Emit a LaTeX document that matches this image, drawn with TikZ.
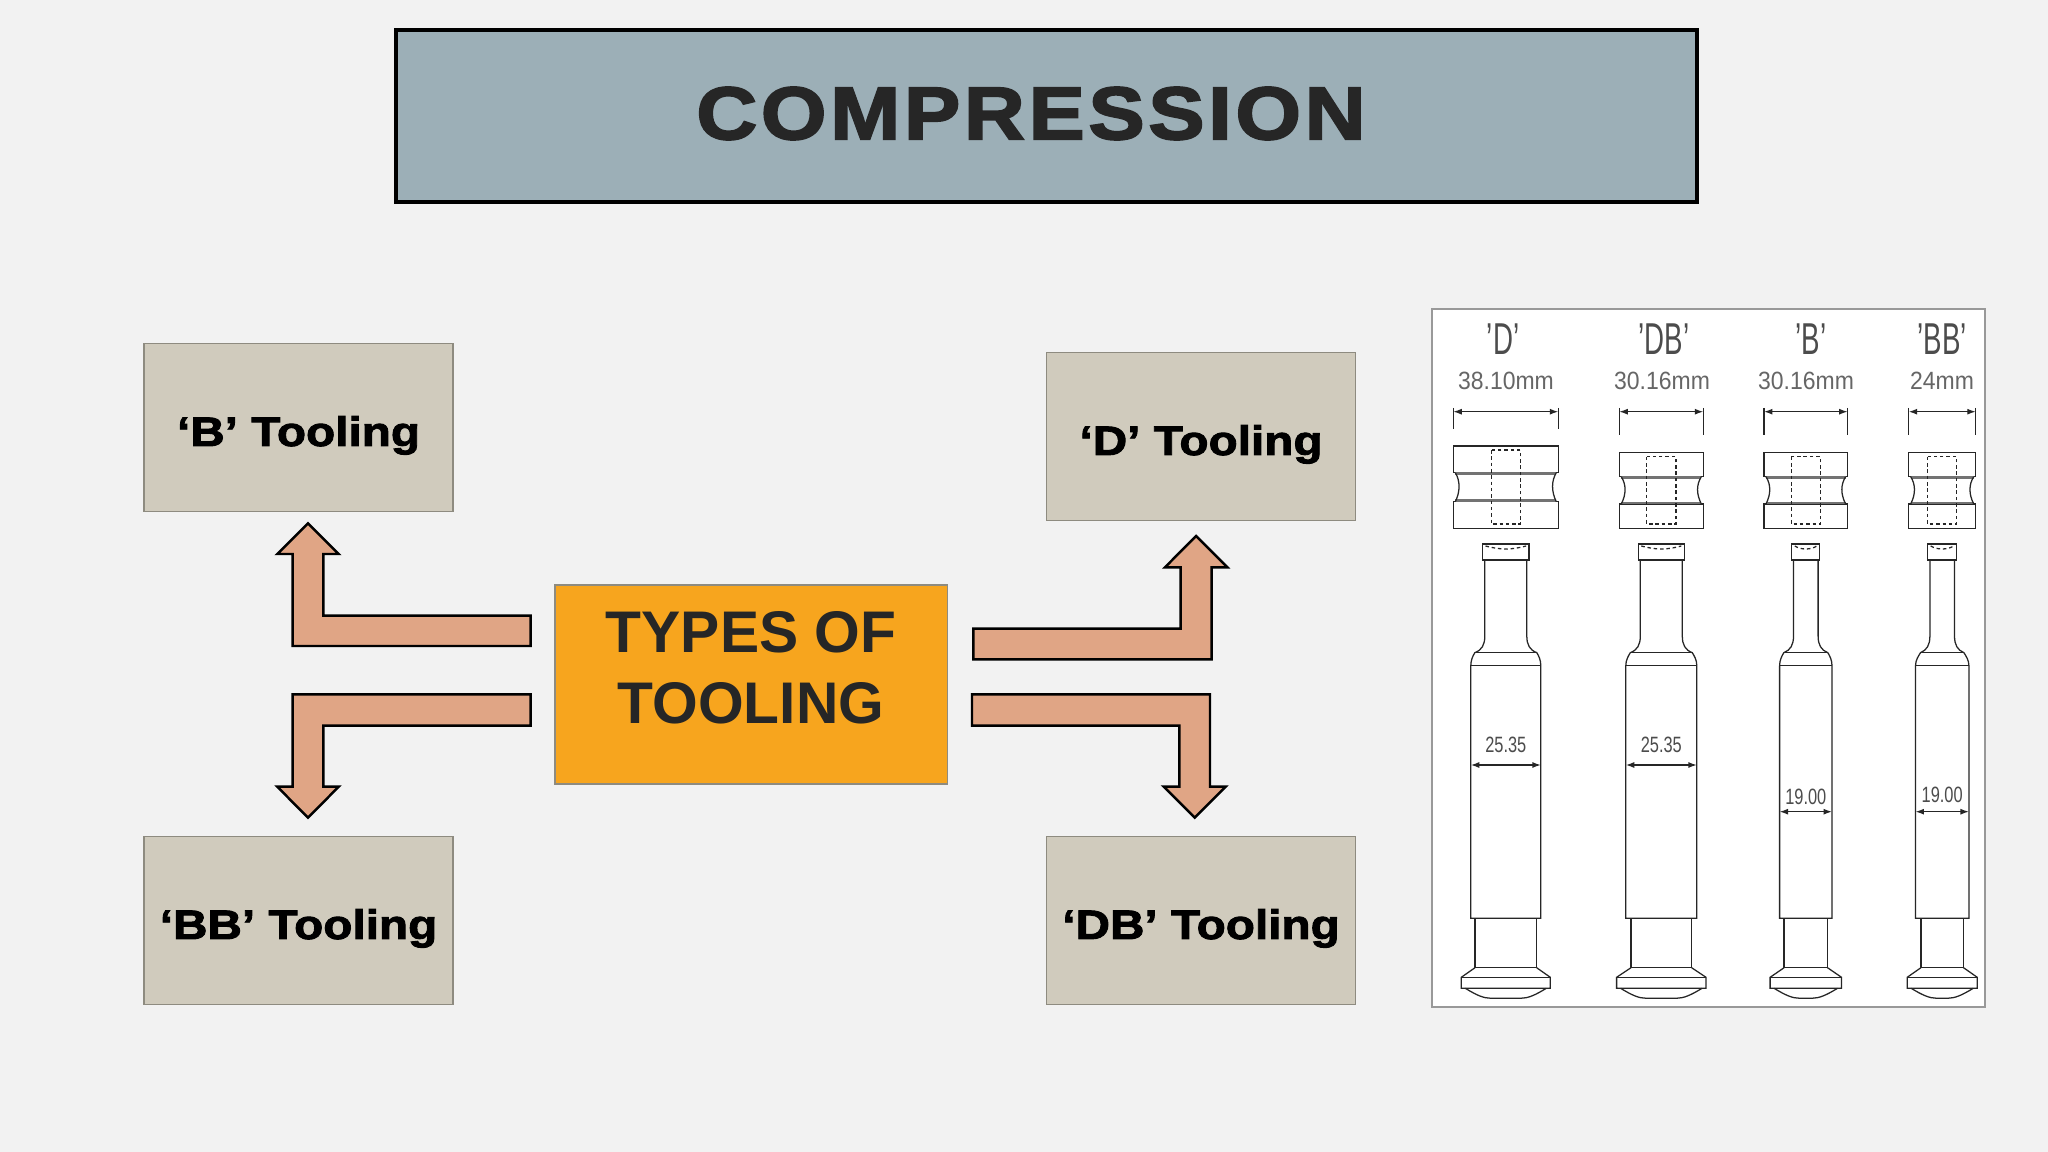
\documentclass[tikz,border=0pt]{standalone}
\usepackage{fontspec}
\usepackage{tikz}
\usetikzlibrary{arrows.meta,calc}
\setmainfont{Liberation Sans}
\newfontfamily\blackfont[UprightFont=* Bold,UprightFeatures={FakeBold=2.2,FakeStretch=1.16}]{Liberation Sans}
\newfontfamily\titlefont[UprightFont=* Bold,UprightFeatures={FakeBold=2.6,FakeStretch=1.13},LetterSpace=5]{Liberation Sans}
\newfontfamily\hubfont[UprightFont=* Bold]{Liberation Sans}
\definecolor{pagegrey}{HTML}{F2F2F2}
\definecolor{titleblue}{HTML}{9CAFB7}
\definecolor{toolbox}{HTML}{D0CBBD}
\definecolor{toolline}{HTML}{8E8B80}
\definecolor{huborange}{HTML}{F7A51E}
\definecolor{arrowfill}{HTML}{E0A585}
\definecolor{darktext}{HTML}{262626}
\tikzset{
  toolbox/.style={draw=toolline,line width=0.35pt,fill=toolbox,minimum width=3.09cm,minimum height=1.68cm,text height=13pt,text depth=2.5pt,font=\blackfont\fontsize{11.7}{14}\selectfont,text=black},
  blockarrow/.style={draw=black,line width=0.7pt,fill=arrowfill,miter limit=10},
  cad/.style={draw=black!85,line width=0.36pt},
  cadband/.style={draw=black!55,line width=0.8pt},
  caddash/.style={draw=black!85,line width=0.36pt,dash pattern=on 1pt off 0.8pt},
  dimline/.style={cad,{Latex[length=2.4pt,width=1.7pt]}-{Latex[length=2.4pt,width=1.7pt]}}
}

\begin{document}
\begin{tikzpicture}[x=0.01cm,y=-0.01cm]
  \useasboundingbox (0,0) rectangle (2048,1152);
  \fill[pagegrey] (0,0) rectangle (2048,1152);

  % title bar
  \node[draw=black,line width=1.15pt,fill=titleblue,minimum width=13.01cm,minimum height=1.72cm] (title) at (1046.5,116) {};
  \node[text=darktext,font=\titlefont\fontsize{21.2}{26}\selectfont] (titletext) at (1031,113.5) {COMPRESSION};

  % centre box and the four tooling boxes
  \node[draw=toolline,line width=0.35pt,fill=huborange,minimum width=3.92cm,minimum height=1.99cm,
    text=darktext,align=center,text depth=9.6pt,font=\hubfont\fontsize{16.7}{20.4}\selectfont] (types) at (751,684.5) {TYPES OF\\TOOLING};
  \node[toolbox] (btool) at (298.5,427.5) {‘B’ Tooling};
  \node[toolbox] (dtool) at (1201,436.5) {‘D’ Tooling};
  \node[toolbox] (bbtool) at (298.5,920.5) {‘BB’ Tooling};
  \node[toolbox] (dbtool) at (1201,920.5) {‘DB’ Tooling};

  % block arrows
  \coordinate (btip) at (308,523.3);
  \coordinate (bbtip) at (308,817.7);
  \coordinate (dtip) at (1196,536);
  \coordinate (dbtip) at (1194.7,817.7);

  \draw[blockarrow] (btip) -- ++(30.7,30.7) -- ++(-15.4,0) |- (530.7,615.7) -- (530.7,646)
    -| ($(btip)+(-15.3,30.7)$) -- ++(-15.4,0) -- cycle;
  \draw[blockarrow] (bbtip) -- ++(30.7,-31) -- ++(-15.4,0) |- (530.7,725.7) -- (530.7,694.3)
    -| ($(bbtip)+(-15.3,-31)$) -- ++(-15.4,0) -- cycle;
  \draw[blockarrow] (dtip) -- ++(31.3,31.3) -- ++(-15.6,0) |- (973.3,659.3) -- (973.3,628.7)
    -| ($(dtip)+(-15.3,31.3)$) -- ++(-15.7,0) -- cycle;
  \draw[blockarrow] (dbtip) -- ++(31,-31) -- ++(-15.7,0) |- (972,694.3) -- (972,725.7)
    -| ($(dbtip)+(-15.4,-31)$) -- ++(-15.6,0) -- cycle;

  % white panel with the four tool sets
  \fill[white,draw=black!40,line width=0.4pt] (1432,309) rectangle (1985,1007);

  \foreach \name/\cx/\capx/\sizex/\cap/\size/\dh/\dt/\ub/\lt/\hh/\sh/\fh/\bh/\nh/\ph/\mm/\my/\ty/\tick in {
    d/1505.8/1503/1506/'D'/38.10mm/52.5/446/472.7/501.7/23.3/21/31/35/30.8/44.5/25.35/765/745/429,
    db/1661.3/1664/1662/'DB'/30.16mm/42/452.7/476.7/504/23/21/31/35.5/30.3/44.7/25.35/765/745/435,
    b/1805.8/1811/1806/'B'/30.16mm/41.8/452.7/476.7/504/14/12.3/22/26.2/21.7/35.7/19.00/811.7/797.3/435,
    bb/1942.2/1942/1942/'BB'/24mm/33.5/452.7/476.7/504/14.5/12.3/21.7/26.7/21.3/35/19.00/811.7/795/435}{
    \begin{scope}[shift={(\cx,0)}]
      % headings
      \node[font=\fontsize{12.7}{14}\selectfont,xscale=0.62,text=black!70] (cap\name) at ({\capx-\cx},339) {\cap};
      \node[font=\fontsize{7.1}{9}\selectfont,xscale=0.92,text=black!60] (size\name) at ({\sizex-\cx},381) {\size};

      % die width
      \draw[dimline] (-\dh,411.7) -- (\dh,411.7);
      \draw[cad] (-\dh,408) -- (-\dh,\tick);
      \draw[cad] (\dh,408) -- (\dh,\tick);

      % die
      \draw[cad] (-\dh,\dt) rectangle (\dh,\ub);
      \draw[cad] (-\dh,\lt) rectangle (\dh,528.3);
      \draw[cadband] ({-\dh+2},{\ub+1}) -- ({\dh-2},{\ub+1});
      \draw[cadband] ({-\dh+2},{\lt-1}) -- ({\dh-2},{\lt-1});
      \draw[cad] ({-\dh+2},\ub) .. controls ({-\dh+7},{\ub+8}) and ({-\dh+7},{\lt-10}) .. ({-\dh+2},\lt);
      \draw[cad] ({\dh-2},\ub) .. controls ({\dh-7},{\ub+8}) and ({\dh-7},{\lt-10}) .. ({\dh-2},\lt);
      \draw[caddash] (-14.6,{\dt+4}) rectangle (14.6,524);

      % punch
      \draw[cad] (-\hh,544) rectangle (\hh,560);
      \draw[caddash] ({-\hh+3},546) .. controls (-5,550) and (5,550) .. ({\hh-3},546);
      \draw[cad] (-\sh,560) -- (-\sh,636) .. controls (-\sh,645) and ({-\sh-3},650) .. (-\fh,652.7)
        .. controls ({-\fh-2},656) and (-\bh,660) .. (-\bh,665.7) -- (-\bh,918.3) -- (\bh,918.3) -- (\bh,665.7)
        .. controls (\bh,660) and ({\fh+2},656) .. (\fh,652.7) .. controls ({\sh+3},650) and (\sh,645) .. (\sh,636) -- (\sh,560);
      \draw[cad] (-\fh,652.7) -- (\fh,652.7);
      \draw[cad] (-\bh,665.7) -- (\bh,665.7);
      \draw[cad] (-\nh,918.3) -- (-\nh,967.7) -- (\nh,967.7) -- (\nh,918.3);
      \draw[cad] (-\nh,967.7) -- (-\ph,977.3) -- (-\ph,988.3) -- (\ph,988.3) -- (\ph,977.3) -- (\nh,967.7);
      \draw[cad] (-\ph,977.3) -- (\ph,977.3);
      \draw[cad] ({-\ph+4},988.3) .. controls ({-\ph+15},995) and ({-\ph+22},998.3) .. ({-\ph+30},998.3)
        -- ({\ph-30},998.3) .. controls ({\ph-22},998.3) and ({\ph-15},995) .. ({\ph-4},988.3);

      % body width
      \draw[dimline] (-\bh,\my) -- (\bh,\my);
      \node[font=\fontsize{6.3}{8}\selectfont,xscale=0.74,text=black!70] (dia\name) at (0,\ty) {\mm};
    \end{scope}
  }
\end{tikzpicture}
\end{document}
